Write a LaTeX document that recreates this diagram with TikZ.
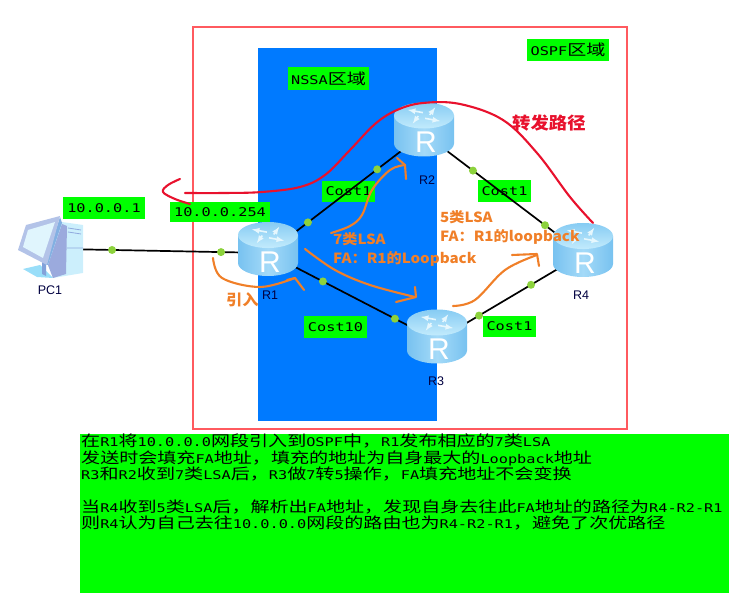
\documentclass[tikz,border=0pt]{standalone}
\usepackage{fontspec}
\setmainfont{Liberation Sans}
\newfontfamily\cjk[FakeStretch=1.27]{Noto Sans CJK SC}
\newfontfamily\cjknote[FakeStretch=1.08]{Noto Sans CJK SC}
\newfontfamily\lat[FakeStretch=1.27]{DejaVu Sans Mono}
\newcommand{\zh}[1]{{\cjk\fontsize{15}{16.4}\selectfont #1}}
\definecolor{tagreen}{HTML}{00FF00}
\definecolor{areablue}{HTML}{007AFF}
\definecolor{penred}{HTML}{E8112D}
\definecolor{penorange}{HTML}{F07F28}
\definecolor{boxred}{HTML}{FF5A5F}
\definecolor{dotgreen}{HTML}{8CD23C}
\definecolor{bodyside}{HTML}{78C2F0}
\definecolor{bodymid}{HTML}{A4DAF8}
\definecolor{bodytop}{HTML}{A8E2FB}
\tikzset{
  tag/.style={fill=tagreen, inner sep=0, font=\lat\fontsize{12}{14}\selectfont},
  devname/.style={inner sep=0, text=black!75!blue, font=\fontsize{12.5}{14}\selectfont},
  devbox/.style={inner sep=0, minimum width=60, minimum height=54},
  link/.style={line width=1.7pt, black},
  linkdot/.style={circle, fill=dotgreen, inner sep=0, minimum size=8},
  pen/.style={line width=2.1pt, line cap=round, line join=round},
  note/.style={text=penorange, inner sep=0, anchor=west, align=left,
    font=\cjknote\bfseries\fontsize{14}{20}\selectfont},
  router/.pic={
    \path[left color=bodyside, right color=bodyside, middle color=bodymid]
      (-30,-18) -- (-30,10) arc (180:0:30 and 13) -- (30,-18) -- cycle;
    \path[top color=bodyside!70!bodytop, bottom color=bodytop!70!white] (0,-18) ellipse [x radius=30, y radius=13];
    \foreach \a in {20,110,200,290}
      \draw[white!90!cyan, line width=1.6pt, ->, >=latex, yscale=.5, yshift=36]
        (\a:3) ++(\a+90:5) -- ++(\a:16);
    \node[inner sep=0, text=white, font=\fontsize{30}{30}\selectfont] (-glyph) at (2,9) {R};
  },
  pcicon/.pic={
    \fill[cyan!40!white] (-39,20) -- (-22,16) -- (-9,29) -- (-25,28) -- cycle;
    \fill[cyan!45!blue!50] (-20,12) -- (-16,12) -- (-16,27) -- (-20,25) -- cycle;
    \fill[cyan!20!white] (0,-27) -- (21,-24) -- (21,24) -- (-9,29) -- (-14,16) -- cycle;
    \fill[cyan!35!blue!40] (0,-25) -- (5,-23) -- (4,25) -- (-9,29) -- (-14,16) -- cycle;
    \fill[cyan!60!blue!50] (-2,-32) -- (0,-26) -- (-14,16) -- (-17,16) -- cycle;
    \fill[cyan!45!blue!30] (-36,-24) -- (-2,-33) -- (-15,16) -- (-44,1) -- cycle;
    \fill[cyan!12!white] (-34,-19) -- (-7,-27) -- (-19,9) -- (-39,-2) -- cycle;
    \draw[cyan!45!blue!45, line width=.8pt] (6,-21) -- (19,-19) (6,-17) -- (19,-15) (5,-1) -- (21,-1);
  }
}
\begin{document}
\begin{tikzpicture}[x=1pt, y=-1pt]
\useasboundingbox (0,0) rectangle (748,601);
% areas
\fill[areablue] (258,48) rectangle (436.5,421);
\draw[boxred, line width=1.1pt] (193,27) rectangle (627,429);
\fill[tagreen] (80,434) rectangle (729,593);
\node[inner sep=0, anchor=north west, align=left, font=\lat\fontsize{12}{16.4}\selectfont] (summary) at (81,434) {%
\zh{在}R1\zh{将}10.0.0.0\zh{网段引入到}OSPF\zh{中，}R1\zh{发布相应的}7\zh{类}LSA\\
\zh{发送时会填充}FA\zh{地址，填充的地址为自身最大的}Loopback\zh{地址}\\
R3\zh{和}R2\zh{收到}7\zh{类}LSA\zh{后，}R3\zh{做}7\zh{转}5\zh{操作，}FA\zh{填充地址不会变换}\\
~\\
\zh{当}R4\zh{收到}5\zh{类}LSA\zh{后，解析出}FA\zh{地址，发现自身去往此}FA\zh{地址的路径为}R4-R2-R1\\
\zh{则}R4\zh{认为自己去往}10.0.0.0\zh{网段的路由也为}R4-R2-R1\zh{，避免了次优路径}};

% labels
\node[tag, minimum width=82, minimum height=22] (ospf) at (568,50) {OSPF\zh{区域}};
\node[tag, minimum width=81, minimum height=23] (nssa) at (328.5,78.5) {NSSA\zh{区域}};
\node[tag, minimum width=82, minimum height=22] (ippc) at (104,208) {10.0.0.1};
\node[tag, minimum width=100, minimum height=20] (ipr1) at (220,212) {10.0.0.254};
\node[tag, minimum width=53, minimum height=21] (c12) at (348.5,191.5) {Cost1};
\node[tag, minimum width=53, minimum height=22] (c24) at (504.5,191) {Cost1};
\node[tag, minimum width=53, minimum height=21] (c34) at (509.5,326.5) {Cost1};
\node[tag, minimum width=63, minimum height=22] (c13) at (335.5,327) {Cost10};

% devices
\node[devbox, minimum width=65] (PC1) at (62,249) {};
\node[devbox] (R1) at (268,253) {};
\node[devbox] (R2) at (424,133.5) {};
\node[devbox] (R3) at (437,340.5) {};
\node[devbox] (R4) at (583,254) {};

% links
\draw[link] (PC1.center) -- node[linkdot, pos=.243] (d1) {} node[linkdot, pos=.772] (d2) {} (R1.center);
\draw[link] (R1.center) -- node[linkdot, pos=.256] (d3) {} node[linkdot, pos=.70] (d4) {} (R2.center);
\draw[link] (R1.center) -- node[linkdot, pos=.325] (d5) {} node[linkdot, pos=.751] (d6) {} (R3.center);
\draw[link] (R2.center) -- node[linkdot, pos=.308] (d7) {} node[linkdot, pos=.761] (d8) {} (R4.center);
\draw[link] (R3.center) -- node[linkdot, pos=.288] (d9) {} node[linkdot, pos=.644] (d10) {} (R4.center);

\pic (pcpic) at (62,249) {pcicon};
\pic (r1pic) at (268,253) {router};
\pic (r2pic) at (424,133.5) {router};
\pic (r3pic) at (437,340.5) {router};
\pic (r4pic) at (583,254) {router};

\node[devname] (lpc) at (50,290) {PC1};
\node[devname] (lr1) at (270,295) {R1};
\node[devname] (lr2) at (427,180) {R2};
\node[devname] (lr3) at (436,381) {R3};
\node[devname] (lr4) at (581,295) {R4};

% notes
\node[note] (n7a) at (333,239) {7类LSA};
\node[note] (n7b) at (333,259) {FA：R1的Loopback};
\node[note] (n5a) at (440,217) {5类LSA};
\node[note] (n5b) at (440,237) {FA：R1的loopback};
\node[note, font=\cjknote\bfseries\fontsize{15}{20}\selectfont] (intro) at (226,300) {引入};
\node[note, text=penred, font=\cjknote\bfseries\fontsize{17}{20}\selectfont] (path) at (512,123) {转发路径};

% pen strokes
\draw[pen, penred] plot[smooth, tension=.6] coordinates {(185,193) (225,193) (262,192) (300,187) (325,175) (350,150) (375,124) (397,110) (423,103) (460,104) (503,120) (537,153) (570,197) (593,223)};
\draw[pen, penred] plot[smooth, tension=.6] coordinates {(180,179) (168,185) (163,192) (175,199) (190,204)};
\draw[pen, penorange] plot[smooth, tension=.6] coordinates {(331,233) (350,226) (362,215) (372,190) (390,170) (405,165)};
\draw[pen, penorange] (397,158) -- (405,165) -- (406,179);
\draw[pen, penorange] plot[smooth, tension=.6] coordinates {(305,249) (335,270) (370,285) (415,297)};
\draw[pen, penorange] (415,287) -- (416,297) -- (396,302);
\draw[pen, penorange] plot[smooth, tension=.6] coordinates {(213,258) (222,278) (260,287) (295,278)};
\draw[pen, penorange] (287,280) -- (295,278) -- (304,290);
\draw[pen, penorange] plot[smooth, tension=.6] coordinates {(453,306) (475,300) (505,270) (537,255)};
\draw[pen, penorange] (512,255) -- (537,254) -- (539,266);
\end{tikzpicture}
\end{document}
